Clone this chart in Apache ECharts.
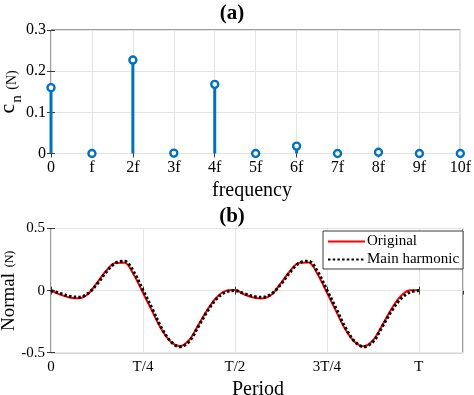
<!DOCTYPE html>
<html>
<head>
<meta charset="utf-8">
<script src="https://cdn.jsdelivr.net/npm/echarts@6/dist/echarts.min.js"></script>
<style>
html,body{margin:0;padding:0;background:#fff;}
#chart{width:474px;height:395px;}
</style>
</head>
<body>
<div id="chart"></div>
<script>
// ---- Data (a): harmonic amplitudes ----
const freqLabels = ['0','f','2f','3f','4f','5f','6f','7f','8f','9f','10f'];
const cnValues = [0.160, 0.000, 0.227, 0.001, 0.168, 0.000, 0.018, 0.000, 0.003, 0.000, 0.000];
const yTicksA = [0, 0.1, 0.2, 0.3];
const yLabelsA = ['0', '0.1', '0.2', '0.3'];

// ---- Data (b): normal force over one period (t in units of T) ----
const periodT = [0,0.025,0.05,0.075,0.1,0.125,0.15,0.175,0.2,0.225,0.25,0.275,0.3,0.325,0.35,0.375,0.4,0.425,0.45,0.475,
                 0.5,0.525,0.55,0.575,0.6,0.625,0.65,0.675,0.7,0.725,0.75,0.775,0.8,0.825,0.85,0.875,0.9,0.925,0.95,0.975,1];
const originalValues = [0,-0.032,-0.055,-0.062,-0.030,0.062,0.160,0.222,0.224,0.128,-0.018,-0.165,-0.310,-0.410,-0.447,-0.400,-0.280,-0.155,-0.055,-0.002,
                        0.004,-0.030,-0.055,-0.063,-0.032,0.060,0.158,0.224,0.226,0.130,-0.015,-0.165,-0.312,-0.412,-0.448,-0.402,-0.282,-0.150,-0.048,0.002,0.003];
const harmonicValues = [0,-0.022,-0.045,-0.053,-0.024,0.052,0.150,0.222,0.236,0.150,0.004,-0.145,-0.298,-0.408,-0.452,-0.412,-0.292,-0.166,-0.066,-0.012,
                        0.0,-0.024,-0.046,-0.054,-0.025,0.051,0.149,0.222,0.237,0.151,0.005,-0.144,-0.297,-0.408,-0.452,-0.413,-0.293,-0.168,-0.068,-0.014,0.0];
const xTicksB = [0, 0.25, 0.5, 0.75, 1];
const xLabelsB = ['0', 'T/4', 'T/2', '3T/4', 'T'];
const yTicksB = [-0.5, 0, 0.5];
const yLabelsB = ['-0.5', '0', '0.5'];

const SERIF = '"Liberation Serif", "DejaVu Serif", serif';
const FRAME = '#3a3a3a';
const GRIDC = '#e4e4e4';
const BLUE = '#0072BD';

function labelFrom(ticks, labels) {
  return function (v) {
    for (let i = 0; i < ticks.length; i++) {
      if (Math.abs(ticks[i] - v) < 1e-6) return labels[i];
    }
    return '';
  };
}

const gridA = {left: 51, top: 30, width: 412, height: 123.5};
const gridB = {left: 51, top: 228.5, width: 412, height: 124.2};

function mainAxis(extra) {
  return Object.assign({
    type: 'value',
    axisLine: {show: false},
    axisTick: {show: true, inside: true, length: 4, lineStyle: {color: FRAME, width: 1}},
    splitLine: {show: true, lineStyle: {color: GRIDC, width: 1}},
    axisLabel: {color: '#000', fontFamily: SERIF}
  }, extra);
}
function mirrorAxis(extra) {
  return Object.assign({
    type: 'value',
    axisLine: {show: false},
    axisTick: {show: true, inside: true, length: 4, lineStyle: {color: FRAME, width: 1}},
    splitLine: {show: false},
    axisLabel: {show: false}
  }, extra);
}

const chart = echarts.init(document.getElementById('chart'), null, {renderer: 'canvas'});

const option = {
  animation: false,
  backgroundColor: '#fff',
  grid: [
    Object.assign({show: true, borderColor: FRAME, borderWidth: 1, backgroundColor: 'transparent'}, gridA),
    Object.assign({show: true, borderColor: FRAME, borderWidth: 1, backgroundColor: 'transparent'}, gridB)
  ],
  xAxis: [
    mainAxis({gridIndex: 0, position: 'bottom', min: 0, max: 10, interval: 1,
      axisLabel: {color: '#000', fontFamily: SERIF, fontSize: 16, margin: 6,
        formatter: v => freqLabels[Math.round(v)] || ''}}),
    mirrorAxis({gridIndex: 0, position: 'top', min: 0, max: 10, interval: 1}),
    mainAxis({gridIndex: 1, position: 'bottom', min: 0, max: 1.12, interval: 0.25,
      axisLabel: {color: '#000', fontFamily: SERIF, fontSize: 15, margin: 7,
        showMaxLabel: false, formatter: labelFrom(xTicksB, xLabelsB)}}),
    mirrorAxis({gridIndex: 1, position: 'top', min: 0, max: 1.12, interval: 0.25})
  ],
  yAxis: [
    mainAxis({gridIndex: 0, position: 'left', min: 0, max: 0.3, interval: 0.1,
      axisLabel: {color: '#000', fontFamily: SERIF, fontSize: 16, margin: 5,
        formatter: labelFrom(yTicksA, yLabelsA)}}),
    mirrorAxis({gridIndex: 0, position: 'right', min: 0, max: 0.3, interval: 0.1}),
    mainAxis({gridIndex: 1, position: 'left', min: -0.5, max: 0.5, interval: 0.5,
      axisLabel: {color: '#000', fontFamily: SERIF, fontSize: 15, margin: 6,
        formatter: labelFrom(yTicksB, yLabelsB)}}),
    mirrorAxis({gridIndex: 1, position: 'right', min: -0.5, max: 0.5, interval: 0.5})
  ],
  legend: {
    data: ['Original', 'Main harmonic'],
    orient: 'vertical',
    left: 323, top: 231,
    width: 138,
    padding: [3, 4, 2, 4],
    itemGap: 3,
    itemWidth: 37, itemHeight: 14,
    backgroundColor: '#fff',
    borderColor: FRAME, borderWidth: 1, borderRadius: 0,
    itemStyle: {opacity: 0, borderWidth: 0},
    textStyle: {fontFamily: SERIF, fontSize: 15, color: '#000', padding: [0, 0, 0, -3]}
  },
  series: [
    {
      type: 'custom',
      name: 'stems',
      xAxisIndex: 0, yAxisIndex: 0,
      data: cnValues.map((v, i) => [i, v]),
      clip: false,
      renderItem: function (params, api) {
        const p0 = api.coord([api.value(0), 0]);
        const p1 = api.coord([api.value(0), api.value(1)]);
        return {type: 'line', shape: {x1: p0[0], y1: p0[1], x2: p1[0], y2: p1[1]},
          style: {stroke: BLUE, lineWidth: 3}};
      },
      z: 3
    },
    {
      type: 'scatter',
      name: 'markers',
      xAxisIndex: 0, yAxisIndex: 0,
      data: cnValues.map((v, i) => [i, v]),
      symbol: 'circle',
      symbolSize: 7,
      clip: false,
      itemStyle: {color: '#fff', borderColor: BLUE, borderWidth: 2.4, opacity: 1},
      z: 4
    },
    {
      type: 'line',
      name: 'Original',
      xAxisIndex: 2, yAxisIndex: 2,
      data: periodT.map((t, i) => [t, originalValues[i]]),
      smooth: 0.35,
      symbol: 'none',
      lineStyle: {color: '#ff0000', width: 2},
      itemStyle: {color: '#ff0000'},
      z: 3
    },
    {
      type: 'line',
      name: 'Main harmonic',
      xAxisIndex: 2, yAxisIndex: 2,
      data: periodT.map((t, i) => [t, harmonicValues[i]]),
      smooth: 0.35,
      symbol: 'none',
      lineStyle: {color: '#000', width: 3, type: [2.5, 2.2]},
      itemStyle: {color: '#000'},
      z: 4
    }
  ],
  graphic: [
    {type: 'text', x: 232, y: 13.5, style: {text: '(a)', font: 'bold 21px ' + SERIF, fill: '#000', textAlign: 'center', textVerticalAlign: 'middle'}},
    {type: 'text', x: 232, y: 216.5, style: {text: '(b)', font: 'bold 21px ' + SERIF, fill: '#000', textAlign: 'center', textVerticalAlign: 'middle'}},
    {type: 'text', x: 252, y: 191, style: {text: 'frequency', font: '20px ' + SERIF, fill: '#000', textAlign: 'center', textVerticalAlign: 'middle'}},
    {type: 'text', x: 258, y: 390, style: {text: 'Period', font: '20px ' + SERIF, fill: '#000', textAlign: 'center', textVerticalAlign: 'middle'}},
    {type: 'text', x: 8, y: 108.5, rotation: Math.PI / 2, style: {text: 'c', font: '22px ' + SERIF, fill: '#000', textAlign: 'center', textVerticalAlign: 'middle'}},
    {type: 'text', x: 17.5, y: 99, rotation: Math.PI / 2, style: {text: 'n', font: '15px ' + SERIF, fill: '#000', textAlign: 'center', textVerticalAlign: 'middle'}},
    {type: 'text', x: 12, y: 80, rotation: Math.PI / 2, style: {text: '(N)', font: '14px ' + SERIF, fill: '#000', textAlign: 'center', textVerticalAlign: 'middle'}},
    {type: 'text', x: 9, y: 302, rotation: Math.PI / 2, style: {text: 'Normal', font: '19px ' + SERIF, fill: '#000', textAlign: 'center', textVerticalAlign: 'middle'}},
    {type: 'text', x: 10, y: 259, rotation: Math.PI / 2, style: {text: '(N)', font: '12px ' + SERIF, fill: '#000', textAlign: 'center', textVerticalAlign: 'middle'}}
  ]
};
chart.setOption(option);
</script>
</body>
</html>
